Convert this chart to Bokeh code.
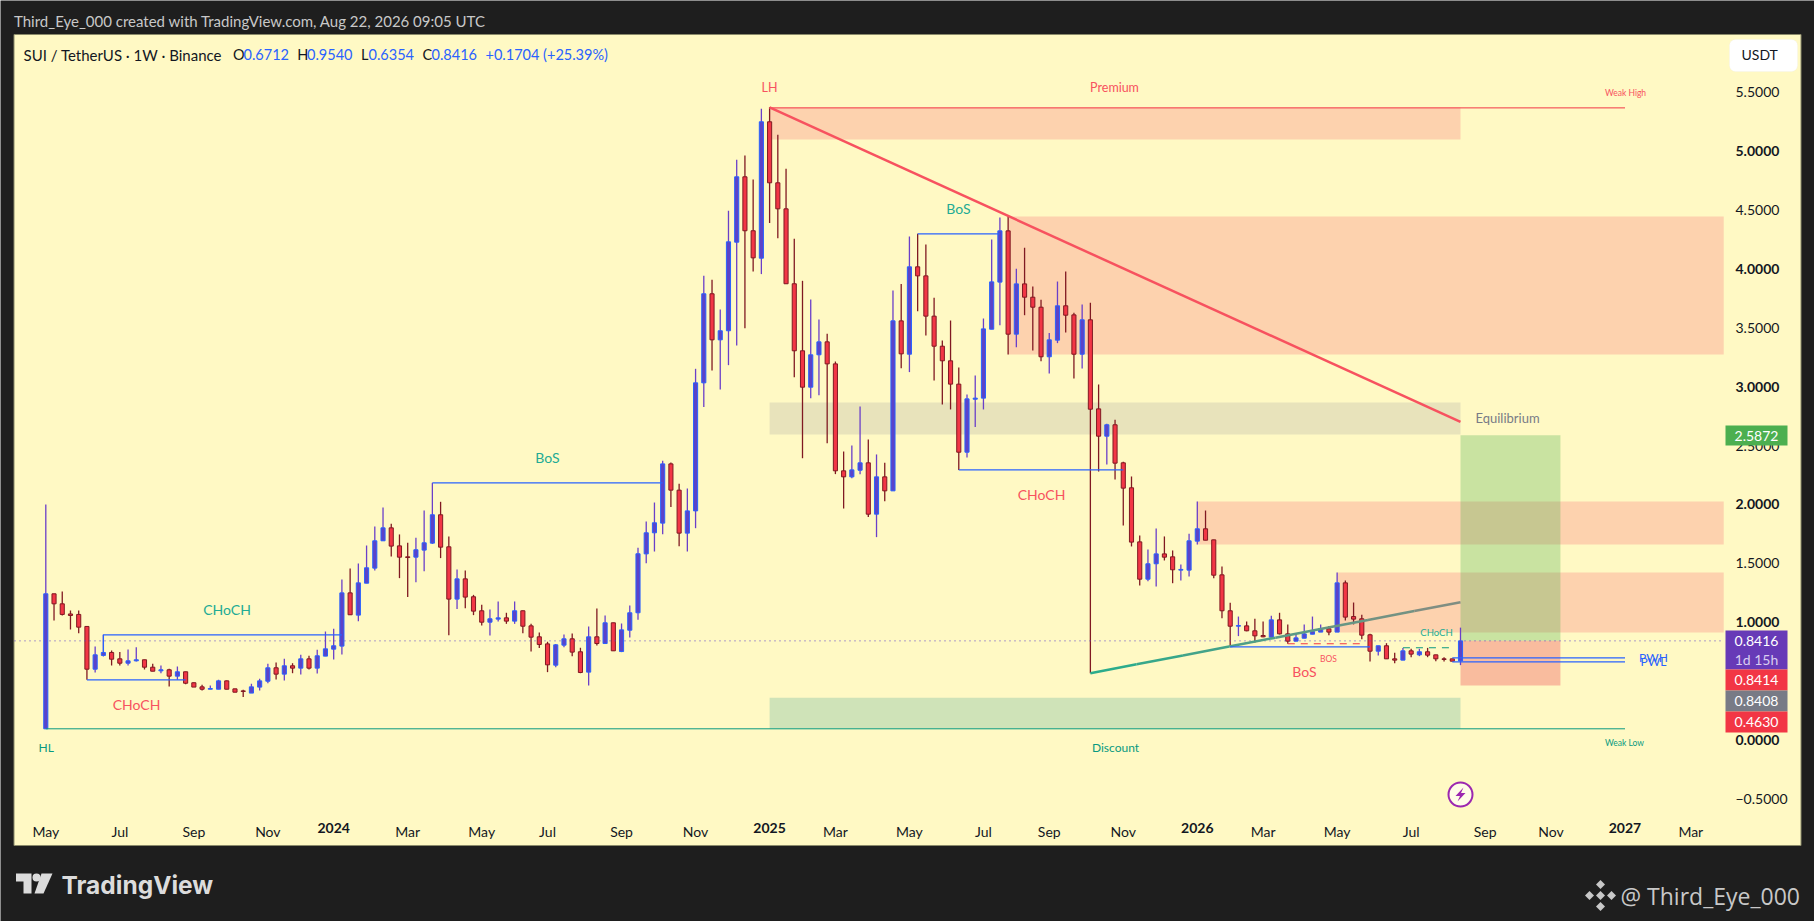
from bokeh.plotting import figure
from bokeh.models import Range1d, LinearAxis, FixedTicker, NumeralTickFormatter, Label, BoxAnnotation
from bokeh.core.properties import value
from bokeh.embed import file_html
from bokeh.resources import INLINE
import numpy as np

# ---------- data: weekly SUI/USDT candles ----------
opens = [
 .095,1.241,1.156,1.07,1.066,.964,.601,.718,.743,.689,
 .652,.672,.681,.618,.587,.596,.542,.579,.486,.451,
 .431,.431,.502,.434,.417,.398,.449,.499,.613,.559,
 .630,.610,.689,.610,.712,.771,.797,1.249,1.060,1.331,
 1.459,1.691,1.801,1.648,1.555,1.552,1.612,1.671,1.912,1.640,
 1.196,1.368,1.216,1.097,1.000,1.026,1.037,1.009,1.097,.969,
 .876,.816,.635,.805,.859,.749,.576,.876,.819,.995,
 .751,.932,1.080,1.580,1.759,1.841,2.344,2.121,1.756,1.945,
 3.032,3.788,3.397,3.474,4.226,4.781,4.323,4.090,5.248,4.730,
 4.509,3.873,3.304,2.995,3.270,3.380,3.193,2.285,2.234,2.290,
 2.353,1.917,2.234,2.115,3.558,3.275,4.017,3.940,3.598,3.343,
 3.219,3.021,2.443,2.893,2.902,3.487,3.887,4.322,3.445,3.872,
 3.759,3.674,3.253,3.394,3.686,3.609,3.275,3.567,2.811,2.579,
 2.676,2.353,2.141,1.682,1.365,1.496,1.580,1.555,1.442,1.442,
 1.688,1.793,1.699,1.402,1.097,.966,.969,.927,.887,.873,
 1.020,.901,.839,.864,.898,.916,.944,.916,1.334,1.048,
 1.029,.893,.754,.800,.689,.678,.757,.723,.749,.723,
 .689,.689,.6712]
highs = [
 2.00,1.241,1.261,1.10,1.10,.966,.794,.893,.76,.746,
 .768,.788,.681,.647,.633,.604,.624,.579,.488,.468,
 .463,.511,.505,.434,.426,.477,.519,.647,.658,.689,
 .652,.723,.715,.766,.921,.944,1.363,1.456,1.498,1.651,
 1.813,1.974,1.835,1.745,1.674,1.716,1.949,2.183,2.022,1.728,
 1.448,1.439,1.232,1.148,1.108,1.176,1.080,1.176,1.099,.986,
 .913,.834,.816,.896,.904,.783,.964,1.116,1.057,.995,
 .989,1.142,1.632,1.855,2.016,2.370,2.356,2.175,2.135,3.151,
 3.941,3.907,3.655,4.492,4.925,4.962,4.758,5.358,5.372,5.138,
 4.849,4.255,3.898,3.739,3.570,3.448,3.213,2.449,2.500,2.831,
 2.551,2.424,2.353,3.816,3.872,4.274,4.297,4.206,3.754,3.391,
 3.561,3.162,2.933,3.094,3.578,4.249,4.435,4.447,4.000,4.178,
 3.850,3.737,3.456,3.892,3.977,3.626,3.697,3.711,3.018,2.684,
 2.718,2.361,2.237,1.736,1.617,1.796,1.728,1.609,1.490,1.750,
 2.025,1.948,1.699,1.473,1.165,1.048,1.006,1.029,1.005,1.054,
 1.080,.981,.907,.981,1.048,.981,.967,1.422,1.354,1.167,
 1.063,.901,.800,.822,.740,.782,.774,.774,.782,.723,
 .703,.689,.954]
lows = [
 .095,1.015,1.057,.938,.907,.511,.573,.709,.633,.633,
 .633,.667,.599,.584,.567,.454,.511,.474,.449,.420,
 .431,.431,.431,.406,.364,.398,.420,.482,.514,.505,
 .567,.556,.599,.565,.712,.683,.726,1.063,1.009,1.331,
 1.439,1.691,1.558,1.374,1.213,1.340,1.433,1.665,1.544,.890,
 1.111,1.119,1.060,.972,.887,1.006,.986,.986,.907,.751,
 .780,.576,.618,.788,.712,.567,.463,.802,.814,.757,
 .746,.870,1.020,1.501,1.600,1.747,1.977,1.645,1.600,1.798,
 2.826,3.137,2.975,3.182,3.349,3.496,3.977,3.955,4.388,4.260,
 3.873,3.08,2.392,2.902,2.927,2.520,2.257,1.965,2.223,2.257,
 1.892,1.722,2.027,2.115,3.156,3.123,3.640,3.434,3.052,2.848,
 2.806,2.293,2.398,2.656,2.806,3.487,3.521,3.272,3.335,3.606,
 3.306,3.216,3.111,3.369,3.459,3.069,3.154,.567,2.279,2.339,
 2.211,1.821,1.643,1.312,1.348,1.303,1.524,1.331,1.354,1.388,
 1.660,1.696,1.374,1.034,.794,.882,.924,.828,.873,.867,
 .896,.817,.839,.864,.898,.916,.890,.916,1.015,.981,
 .856,.667,.717,.689,.652,.678,.703,.712,.703,.669,
 .666,.669,.6354]
closes = [
 1.241,1.156,1.066,1.057,.958,.601,.723,.743,.686,.652,
 .672,.681,.618,.584,.596,.542,.579,.482,.449,.431,
 .437,.502,.431,.406,.412,.451,.502,.613,.559,.630,
 .610,.689,.610,.715,.774,.800,1.249,1.063,1.334,1.462,
 1.691,1.801,1.646,1.552,1.549,1.615,1.674,1.912,1.637,1.196,
 1.368,1.213,1.094,1.000,1.029,1.037,1.009,1.097,.966,.873,
 .811,.638,.808,.859,.746,.573,.876,.819,.995,.757,
 .935,1.080,1.581,1.759,1.844,2.344,2.121,1.756,1.945,3.032,
 3.788,3.397,3.474,4.229,4.781,4.323,4.093,5.248,4.730,4.509,
 3.873,3.304,2.995,3.270,3.380,3.193,2.285,2.234,2.293,2.353,
 1.917,2.234,2.115,3.558,3.278,4.017,3.940,3.598,3.343,3.219,
 3.021,2.443,2.896,2.902,3.490,3.889,4.322,3.445,3.872,3.759,
 3.674,3.253,3.397,3.686,3.606,3.275,3.567,2.808,2.579,2.676,
 2.350,2.138,1.680,1.365,1.496,1.580,1.552,1.445,1.448,1.691,
 1.793,1.696,1.399,1.097,.966,.972,.927,.884,.876,1.020,
 .901,.839,.867,.901,.921,.944,.916,1.334,1.043,1.026,
 .890,.754,.800,.689,.678,.757,.729,.749,.720,.689,
 .684,.669,.8416]

month_ticks = [0,9,18,27,44,53,61,70,79,96,105,114,122,131,148,157,166,175,183,200]
month_names = ["May","Jul","Sep","Nov","Mar","May","Jul","Sep","Nov","Mar","May","Jul","Sep","Nov",
               "Mar","May","Jul","Sep","Nov","Mar"]
year_ticks = [35,88,140,192]
year_names = ["2024","2025","2026","2027"]
price_ticks_plain = [5.5,4.5,3.5,2.5,1.5,0.5,-0.5]
price_ticks_bold = [5,4,3,2,1,0]

# supply / demand zones: left bar, right bar, top price, bottom price
zone_left = [88,117,140,157]
zone_right = [172,204,204,204]
zone_top = [5.37,4.444,2.025,1.422]
zone_bottom = [5.098,3.272,1.66,.913]
eq_zone = (88,172,2.865,2.593)
discount_zone = (88,172,.358,.095)
reward_box = (172,184.15,2.5872,.8416)
risk_box = (172,184.15,.8416,.4630)

weak_high, weak_low = 5.366, .095
pwh, pwl = .698, .664

# ---------- layout helpers (page pixels to chart coordinates) ----------
W, H = 1814, 921
x0, x1 = (0-45.3)/8.225, (W-45.3)/8.225
y1, y0 = 739.5/117.8, (739.5-H)/117.8
def dx(px): return x0 + px*(x1-x0)/W
def dy(py): return y1 - py*(y1-y0)/H

BG, PANEL = "#1e1e1e", "#fff9c4"
UI = "Lato"
p = figure(width=W, height=H, output_backend="svg", toolbar_location=None,
           x_axis_type=None, y_axis_type=None,
           x_range=Range1d(x0,x1), y_range=Range1d(y0,y1),
           min_border_left=0, min_border_right=0, min_border_top=0, min_border_bottom=0,
           background_fill_color=BG, border_fill_color=BG, outline_line_color=None)
p.grid.visible = False

# chart panel
p.quad(left=dx(13.5),right=dx(1800.5),top=dy(34),bottom=dy(845),fill_color=PANEL,line_color="#8a8a6a",line_width=1)

# ---------- zones ----------
ORANGE = "#fdd2ae"
p.quad(left=zone_left, right=zone_right, top=zone_top, bottom=zone_bottom, fill_color=ORANGE, line_alpha=0)
p.quad(left=eq_zone[0], right=eq_zone[1], top=eq_zone[2], bottom=eq_zone[3], fill_color="#e8e3bb", line_alpha=0)
p.quad(left=discount_zone[0], right=discount_zone[1], top=discount_zone[2], bottom=discount_zone[3],
       fill_color="#cfe3b8", line_alpha=0)
p.quad(left=risk_box[0], right=risk_box[1], top=risk_box[2], bottom=risk_box[3], fill_color="#f9bc9e", line_alpha=0)
p.quad(left=reward_box[0], right=reward_box[1], top=reward_box[2], bottom=reward_box[3],
       fill_color="#4caf50", fill_alpha=.3, line_alpha=0)

# ---------- candles ----------
idx = np.arange(len(opens))
o, h, l, c = map(np.array, (opens, highs, lows, closes))
up = c >= o
WICK_UP, WICK_DN = "#6a3fc9", "#801922"
p.segment(idx, h, idx, l, line_color=[WICK_UP if u else WICK_DN for u in up], line_width=1.3)
p.vbar(x=idx, width=.5, top=np.maximum(o,c), bottom=np.minimum(o,c),
       fill_color=["#5b43c8" if u else "#f23645" for u in up],
       line_color=["#2962ff" if u else "#801922" for u in up], line_width=1)

# ---------- lines ----------
last = closes[-1]
p.line([dx(14),204],[last,last], line_color="#5b3fc9", line_dash="1 4", line_width=1)
p.line([88,192],[weak_high,weak_high], line_color="#f23645", line_width=1)
p.line([0,192],[weak_low,weak_low], line_color="#089981", line_width=1)
p.line([88,172],[5.37,2.70], line_color="#f7525f", line_width=2.5)
tx = np.linspace(127,172,9); ty = np.linspace(.567,1.17,9)
for k in range(8):
    t = k/7
    col = "#%02x%02x%02x" % (int(43+t*85), int(172-t*30), int(140-t*10))
    p.line(tx[k:k+2], ty[k:k+2], line_color=col, line_width=2.5)
BLUE = "#2962ff"
struct = [([7,7,36],[.743,.893,.893]), ([5,17],[.511,.511]), ([47,75],[2.183,2.183]),
          ([106,116],[4.297,4.297]), ([111,131],[2.293,2.293]), ([144,161],[.791,.791]),
          ([171,192],[pwh,pwh]), ([171,192],[pwl,pwl])]
for xs, ys in struct:
    p.line(xs, ys, line_color=BLUE, line_width=1.2)
p.line([151,160],[.817,.817], line_color="#f23645", line_width=1, line_dash="7 6")
p.line([165,171],[.783,.783], line_color="#089981", line_width=1, line_dash="7 6")

# ---------- chart texts ----------
RED, TEAL, GREEN = "#f7525f", "#22ab94", "#089981"
texts = [("LH",769,87,12.5,RED),("Premium",1114,87,12.5,RED),("Weak High",1625,92,8.5,RED),
         ("Equilibrium",1507,417,13,"#787b86"),("BoS",547,457,14,TEAL),("BoS",958,208,14,TEAL),
         ("CHoCH",226.5,609,14,TEAL),("CHoCH",136,704,14,RED),("CHoCH",1041,494,14,RED),
         ("BoS",1304,671,14,RED),("BOS",1328,658,8.5,RED),("CHoCH",1436,632,9.5,TEAL),
         ("PWH",1653,657,12,BLUE),("PWL",1653,661,12,BLUE),("HL",45.7,747,12,GREEN),
         ("Discount",1115,747,12,GREEN),("Weak Low",1624,742,8.5,GREEN)]
for s, px, py, fs, col in texts:
    p.text([dx(px)],[dy(py)],text=[s],text_font=value(UI),text_font_size=f"{fs}px",text_color=col,
           text_align="center",text_baseline="middle")

# ---------- axes ----------
def xaxis(ticks, names, style):
    ax = LinearAxis(ticker=FixedTicker(ticks=ticks), major_label_overrides=dict(zip(ticks,names)),
                    fixed_location=dy(815), axis_line_color=None, major_tick_line_color=None,
                    minor_tick_line_color=None, major_label_standoff=1,
                    major_label_text_font=UI, major_label_text_font_size="14px",
                    major_label_text_color="#131722", major_label_text_font_style=style)
    p.add_layout(ax,"below")
xaxis(month_ticks, month_names, "normal")
xaxis(year_ticks, year_names, "bold")
def yaxis(ticks, style):
    ax = LinearAxis(ticker=FixedTicker(ticks=ticks), formatter=NumeralTickFormatter(format="0.0000"),
                    major_label_overrides={-0.5:"\u22120.5000"},
                    fixed_location=dx(1725), axis_line_color=None, major_tick_line_color=None,
                    minor_tick_line_color=None, major_label_standoff=4,
                    major_label_text_font=UI, major_label_text_font_size="14px",
                    major_label_text_color="#131722", major_label_text_font_style=style)
    p.add_layout(ax,"right")
yaxis(price_ticks_plain,"normal")
yaxis(price_ticks_bold,"bold")

# ---------- price tags on the scale ----------
tags = [("2.5872",425,445,"#4caf50"),("0.8414",669,690,"#f23645"),("0.8408",690,711,"#787b86"),("0.4630",711,732,"#f23645")]
p.quad(left=dx(1725),right=dx(1787),top=dy(630),bottom=dy(669),fill_color="#673ab7",line_alpha=0,level="overlay")
for s,a,b,col in tags:
    p.quad(left=dx(1725),right=dx(1787),top=dy(a),bottom=dy(b),fill_color=col,line_alpha=0,level="overlay")
    p.text([dx(1756)],[dy((a+b)/2)],text=[s],text_font=value(UI),text_font_size="14px",text_color="white",
           text_align="center",text_baseline="middle",level="overlay")
p.text([dx(1756)],[dy(640.5)],text=["0.8416"],text_font=value(UI),text_font_size="14px",text_color="white",
       text_align="center",text_baseline="middle",level="overlay")
p.text([dx(1756)],[dy(658.5)],text=["1d 15h"],text_font=value(UI),text_font_size="14px",text_color="#d9cdf0",
       text_align="center",text_baseline="middle",level="overlay")

# USDT button
p.add_layout(BoxAnnotation(left=dx(1729),right=dx(1797),top=dy(39),bottom=dy(71),fill_color="white",fill_alpha=1,
                           line_color="#eeeeee",border_radius=6))

def label(s, px, py, fs, col, font=UI, style="normal", align="left"):
    p.add_layout(Label(x=dx(px),y=dy(py),text=s,text_font=font,text_font_size=f"{fs}px",text_color=col,
                       text_font_style=style,text_align=align,text_baseline="middle"))

label("USDT",1741,54,14,"#131722")
label("Third_Eye_000 created with TradingView.com, Aug 22, 2026 09:05 UTC",13.5,20,15,"#c8c8c8")
label("SUI / TetherUS \u00b7 1W \u00b7 Binance",23,54,15,"#131722")
LEG = "#2962ff"
for s,px,col in [("O",232.6,"#131722"),("0.6712",243,LEG),("H",296.7,"#131722"),("0.9540",306.5,LEG),
                 ("L",360.4,"#131722"),("0.6354",368,LEG),("C",422,"#131722"),("0.8416",431,LEG),
                 ("+0.1704 (+25.39%)",485,LEG)]:
    label(s,px,54,14.5,col)

# watermark
def poly(xs, ys, col):
    p.patch([dx(a) for a in xs],[dy(b) for b in ys],fill_color=col,line_alpha=0)
WM = "#dcdcdc"
poly([15.5,31,31,23,23,15.5],[873,873,893,893,881,881],WM)
poly([41,52,43,34],[873,873,893,893],WM)
p.scatter([dx(36)],[dy(877)],marker="circle",size=8,fill_color=WM,line_alpha=0)
label("TradingView",61,884,24.5,WM,font="Inter",style="bold")
label("@ Third_Eye_000",1620,895,23,"#c8c8c8",font="Open Sans")
W2="#c8c8c8"
for cx,cy,r in [(1600,884,4.5),(1600,906,4.5),(1589,895,4.5),(1611,895,4.5),(1600,895,4.5)]:
    poly([cx-r,cx,cx+r,cx],[cy,cy-r,cy,cy+r],W2)

# lightning badge
cx, cy = 1460, 794
p.scatter([dx(cx)],[dy(cy)],marker="circle",size=24,fill_color="#fffde7",line_color="#9c27b0",line_width=2)
p.patch([dx(a) for a in [1463,1455,1459.5,1457,1465,1460.5]],[dy(b) for b in [787,795.5,795.5,801,792.5,792.5]],
        fill_color="#9c27b0",line_alpha=0)

open("out.html","w").write(file_html(p, INLINE))
